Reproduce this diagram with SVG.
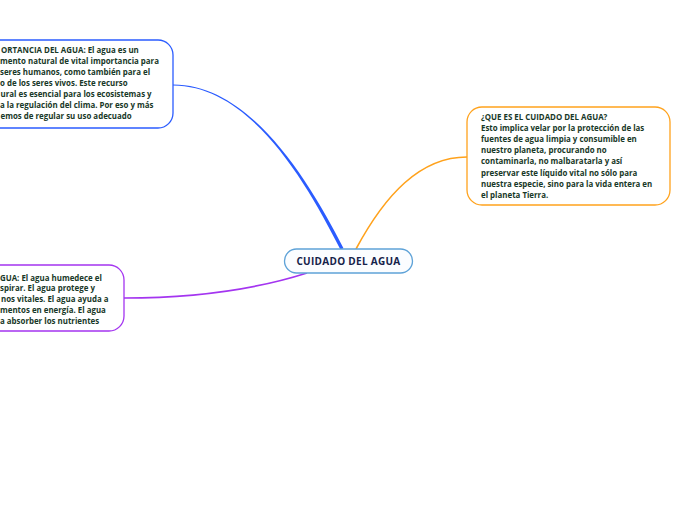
<svg xmlns="http://www.w3.org/2000/svg" width="696" height="520" viewBox="0 0 696 520">
<style>
.t{font-family:"Open Sans","Noto Sans","Liberation Sans",sans-serif;font-size:7.9px;font-weight:700;fill:#183828}
.c{font-family:"Open Sans","Noto Sans","Liberation Sans",sans-serif;font-size:10px;font-weight:700;fill:#15224a;letter-spacing:0.3px}
.n{fill:#ffffff;stroke-width:1.3}
.e{fill:none}
</style>
<rect width="696" height="520" fill="#ffffff"/>
<g id="connectors">
<path d="M173,84.4 C250,84.2 308.4,179.4 343.5,248.2 L340.5,249.8 C305.6,180.6 250,85.8 173,85.6 Z" fill="#2b5cff"/>
<path class="e" d="M356,249 C385,195 420,157 467,157" stroke="#ffa21c" stroke-width="1.6"/>
<path class="e" d="M124,298 C200,298 260,288 307,273" stroke="#a435f0" stroke-width="1.7"/>
</g>
<g id="node-importancia">
<rect class="n" x="-60" y="40" width="233" height="88" rx="15" stroke="#2b5cff"/>
<text class="t" x="1" y="53">ORTANCIA DEL AGUA: El agua es un</text>
<text class="t" x="0" y="64">mento natural de vital importancia para</text>
<text class="t" x="0" y="75">seres humanos, como también para el</text>
<text class="t" x="0" y="85.8">o de los seres vivos. Este recurso</text>
<text class="t" x="0.5" y="96.7">ural es esencial para los ecosistemas y</text>
<text class="t" x="0" y="107.6">a la regulación del clima. Por eso y más</text>
<text class="t" x="0.5" y="118.5">emos de regular su uso adecuado</text>
</g>
<g id="node-que-es">
<rect class="n" x="467" y="107" width="203" height="98" rx="15" stroke="#ffa21c"/>
<text class="t" x="481" y="119.5">¿QUE ES EL CUIDADO DEL AGUA?</text>
<text class="t" x="481" y="130.7">Esto implica velar por la protección de las</text>
<text class="t" x="481" y="141.9">fuentes de agua limpia y consumible en</text>
<text class="t" x="481" y="153.1">nuestro planeta, procurando no</text>
<text class="t" x="481" y="164.3">contaminarla, no malbaratarla y así</text>
<text class="t" x="481" y="175.5">preservar este líquido vital no sólo para</text>
<text class="t" x="481" y="186.7">nuestra especie, sino para la vida entera en</text>
<text class="t" x="481" y="197.9">el planeta Tierra.</text>
</g>
<g id="node-funciones">
<rect class="n" x="-80" y="265" width="204" height="66" rx="15" stroke="#a435f0"/>
<text class="t" x="0" y="280.5">GUA: El agua humedece el</text>
<text class="t" x="0" y="291.3">spirar. El agua protege y</text>
<text class="t" x="1" y="302.1">nos vitales. El agua ayuda a</text>
<text class="t" x="0" y="312.9">mentos en energía. El agua</text>
<text class="t" x="0" y="323.7">a absorber los nutrientes</text>
</g>
<g id="node-central">
<rect x="284.5" y="249" width="128" height="24" rx="12" fill="#fbfdff" stroke="#5fa3d8" stroke-width="1.3"/>
<text class="c" x="348.5" y="265" text-anchor="middle">CUIDADO DEL AGUA</text>
</g>
</svg>
